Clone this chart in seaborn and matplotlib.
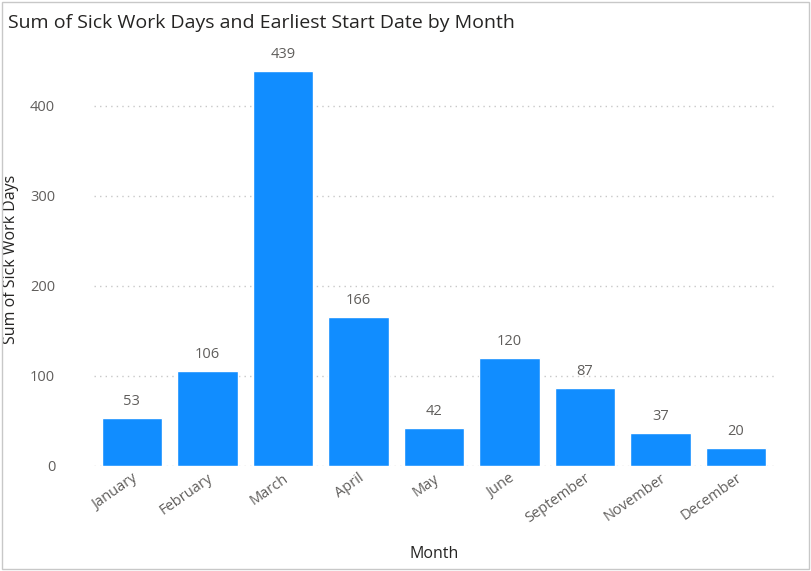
import seaborn as sns
import matplotlib.pyplot as plt
import pandas as pd

months = ["January", "February", "March", "April", "May", "June", "September", "November", "December"]
sick_days = [53, 106, 439, 166, 42, 120, 87, 37, 20]

df = pd.DataFrame({"Month": months, "Sick": sick_days})

sns.set_style("white")
plt.rcParams['font.family'] = ['Open Sans', 'DejaVu Sans']

fig = plt.figure(figsize=(8.11, 5.71), dpi=100)
ax = fig.add_axes([0.116, 0.184, 0.838, 0.725])
sns.barplot(data=df, x="Month", y="Sick", color="#118DFF", saturation=1, width=0.8, ax=ax)

ax.set_xlim(-0.5, 8.5)
ax.set_ylim(0, 460)
ax.set_yticks([0, 100, 200, 300, 400])
ax.yaxis.grid(True, linestyle=(0, (1, 3)), color="#c8c8c8", linewidth=1)
ax.set_axisbelow(True)
sns.despine(ax=ax, left=True, bottom=True)
ax.tick_params(axis="both", length=0, colors="#605E5C", labelsize=10.5)
ax.tick_params(axis="y", pad=28)
plt.setp(ax.get_xticklabels(), rotation=35, ha="right", rotation_mode="anchor")

for i, v in enumerate(sick_days):
    ax.text(i, v + 10, str(v), ha="center", va="bottom", fontsize=10.5, color="#605E5C")

ax.set_xlabel("Month", fontsize=11.5, color="#252423", labelpad=14)
ax.set_ylabel("Sum of Sick Work Days", fontsize=11.5, color="#252423", labelpad=8)
fig.text(0.01, 0.975, "Sum of Sick Work Days and Earliest Start Date by Month",
         fontsize=14, color="#252423", va="top", ha="left")

fig.patches.append(plt.Rectangle((0.003, 0.003), 0.994, 0.994, transform=fig.transFigure,
                                 fill=False, edgecolor="#c8c8c8", linewidth=1))
fig.savefig("out.png", dpi=100)
